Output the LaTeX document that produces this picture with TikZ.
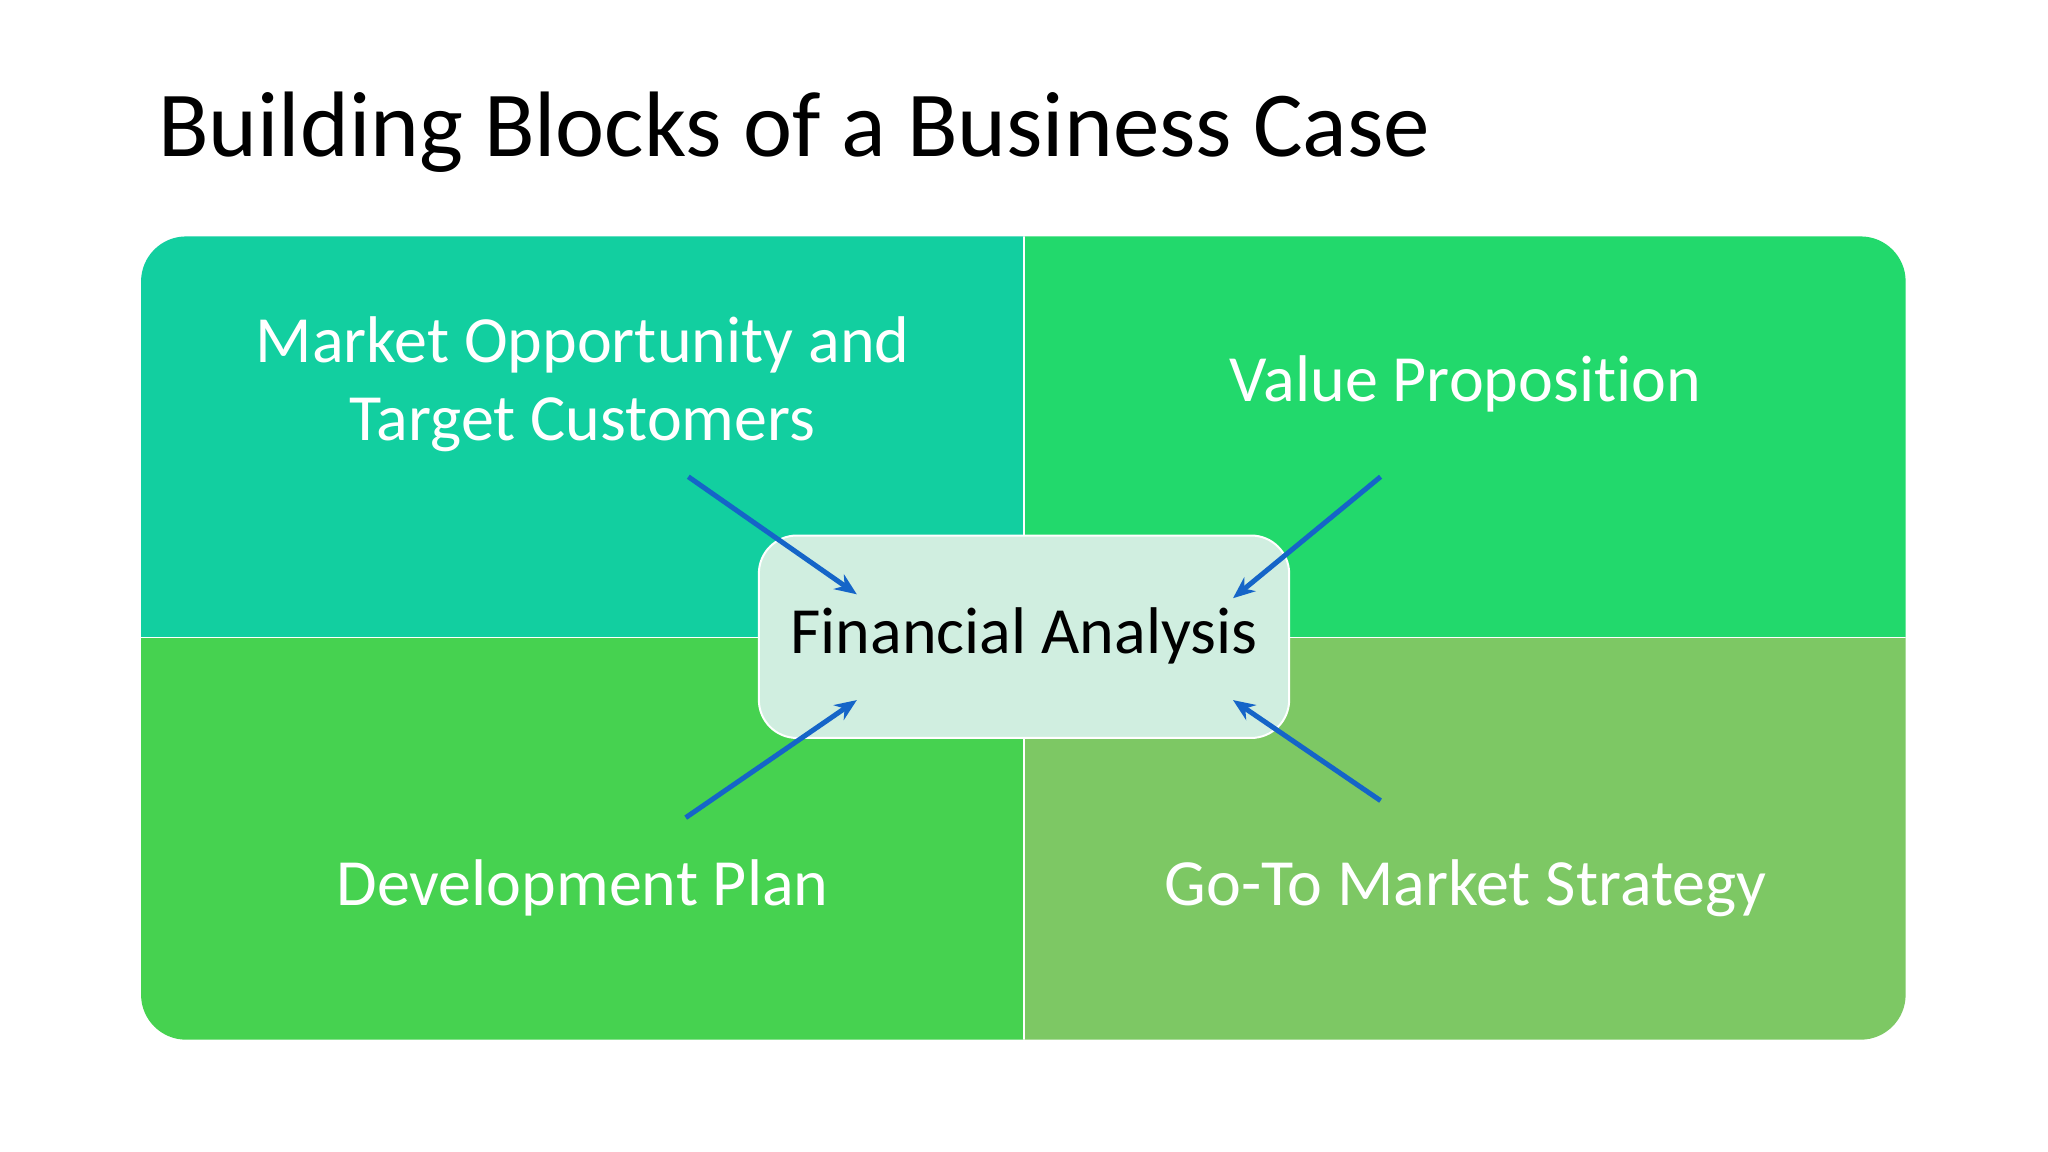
\documentclass[tikz,border=0pt]{standalone}
\usepackage{fontspec}
\setmainfont{Carlito}[Ligatures={NoCommon}]
\usetikzlibrary{arrows.meta}
\begin{document}
\begin{tikzpicture}[x=1.306pt,y=-1.306pt,
  lbl/.style={text=white,font=\fontsize{66}{78}\selectfont,align=center},
  arr/.style={draw={rgb,255:red,21;green,101;blue,200},line width=5pt,-{Stealth[length=22pt,width=18pt]}}]
\definecolor{tl}{RGB}{18,207,160}
\definecolor{tr}{RGB}{34,217,108}
\definecolor{bl}{RGB}{70,210,80}
\definecolor{br}{RGB}{125,200,100}
\definecolor{cb}{RGB}{208,238,224}
\useasboundingbox[fill=white] (0,0) rectangle (1568,882);
\node[anchor=base west,inner sep=0,font=\fontsize{93}{110}\selectfont] (title) at (121,120) {Building Blocks of a Business Case};
\begin{scope}
\clip[rounded corners=45pt] (108,181) rectangle (1459,796);
\fill[tl] (108,181) rectangle (784,488);
\fill[tr] (784,181) rectangle (1459,488);
\fill[bl] (108,488) rectangle (784,796);
\fill[br] (784,488) rectangle (1459,796);
\draw[white,line width=1.5pt] (784,181) -- (784,796) (108,488) -- (1459,488);
\end{scope}
\node[lbl] (mo) at (446,294) {Market Opportunity and\\Target Customers};
\node[lbl] (vp) at (1122,294) {Value Proposition};
\node[lbl] (dp) at (446,680) {Development Plan};
\node[lbl] (gm) at (1122,680) {Go-To Market Strategy};
\draw[white,fill=cb,line width=2pt,rounded corners=38pt] (581,410) rectangle (987,565);
\node[font=\fontsize{66}{78}\selectfont] (fa) at (784,487) {Financial Analysis};
\coordinate (a1) at (527,365); \coordinate (e1) at (656,455);
\coordinate (a2) at (1057,365); \coordinate (e2) at (944,458);
\coordinate (a3) at (525,626); \coordinate (e3) at (656,536);
\coordinate (a4) at (1057,613); \coordinate (e4) at (944,536);
\draw[arr] (a1) -- (e1);
\draw[arr] (a2) -- (e2);
\draw[arr] (a3) -- (e3);
\draw[arr] (a4) -- (e4);
\end{tikzpicture}
\end{document}
